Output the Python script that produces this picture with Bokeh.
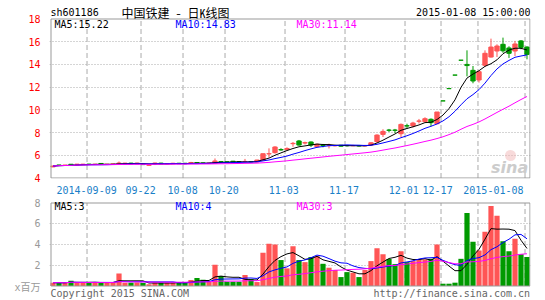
from bokeh.plotting import figure
from bokeh.models import Range1d, FixedTicker, Label, ColumnDataSource
from bokeh.layouts import column
from bokeh.embed import file_html
from bokeh.resources import INLINE

# ---------------- data ----------------
opens = [4.98, 5.14, 5.12, 5.21, 5.17, 5.18, 5.22, 5.20, 5.28, 5.20,
         5.21, 5.22, 5.24, 5.31, 5.24, 5.20, 5.12, 5.24, 5.31, 5.26,
         5.26, 5.30, 5.30, 5.32, 5.36, 5.33, 5.30, 5.29, 5.45, 5.42,
         5.48, 5.44, 5.44, 5.45, 5.41, 5.56, 6.12, 6.23, 6.50, 6.50,
         7.02, 7.26, 7.08, 7.17, 6.76, 6.90, 6.85, 6.84, 6.88, 6.86,
         6.84, 6.86, 6.83, 6.90, 7.20, 7.84, 8.22, 8.22, 7.90, 8.60,
         8.58, 9.00, 8.96, 9.17, 8.78, 10.79, 11.87, 13.06, 14.37, 14.00,
         13.48, 12.63, 13.92, 14.65, 15.18, 15.77, 15.45, 15.18, 16.07, 15.53]
closes = [5.05, 5.12, 5.13, 5.15, 5.22, 5.22, 5.20, 5.21, 5.20, 5.21,
          5.24, 5.32, 5.31, 5.25, 5.31, 5.18, 5.15, 5.32, 5.25, 5.27,
          5.30, 5.26, 5.26, 5.36, 5.32, 5.30, 5.31, 5.50, 5.43, 5.40,
          5.38, 5.42, 5.46, 5.42, 5.58, 6.14, 6.14, 6.73, 6.47, 6.60,
          7.05, 6.90, 7.11, 6.90, 6.97, 6.86, 6.88, 6.85, 6.80, 6.84,
          6.86, 6.82, 6.85, 7.10, 7.78, 8.10, 8.20, 8.20, 8.72, 8.58,
          8.84, 9.02, 9.22, 8.87, 9.81, 10.79, 11.87, 13.06, 14.37, 13.90,
          12.54, 13.36, 14.98, 15.53, 15.62, 15.20, 14.98, 15.80, 15.50, 14.88]
highs = [5.08, 5.15, 5.15, 5.23, 5.23, 5.24, 5.24, 5.23, 5.30, 5.23,
         5.26, 5.45, 5.33, 5.33, 5.33, 5.22, 5.17, 5.34, 5.33, 5.29,
         5.33, 5.32, 5.32, 5.42, 5.41, 5.35, 5.33, 5.72, 5.50, 5.45,
         5.50, 5.47, 5.68, 5.48, 5.60, 6.14, 6.61, 6.80, 6.62, 6.70,
         7.17, 7.35, 7.20, 7.22, 7.02, 7.00, 7.02, 6.92, 6.90, 6.90,
         6.92, 6.90, 6.92, 7.15, 7.85, 8.29, 8.32, 8.32, 8.80, 8.78,
         8.95, 9.20, 9.35, 9.25, 9.81, 10.79, 11.87, 13.06, 14.37, 15.24,
         13.86, 13.45, 15.24, 16.27, 15.77, 16.36, 15.60, 16.07, 16.15, 15.60]
lows = [4.95, 5.08, 5.10, 5.13, 5.15, 5.16, 5.18, 5.18, 5.18, 5.18,
        5.19, 5.20, 5.22, 5.23, 5.22, 5.14, 5.10, 5.14, 5.23, 5.24,
        5.24, 5.24, 5.24, 5.30, 5.30, 5.28, 5.28, 5.28, 5.38, 5.37,
        5.35, 5.38, 5.40, 5.38, 5.38, 5.52, 5.79, 6.15, 6.40, 6.45,
        6.75, 6.85, 6.95, 6.73, 6.70, 6.70, 6.60, 6.78, 6.76, 6.78,
        6.80, 6.78, 6.80, 6.85, 7.10, 7.61, 8.05, 7.95, 7.60, 8.35,
        8.45, 8.80, 8.90, 8.55, 8.75, 10.79, 11.87, 13.06, 14.37, 12.95,
        12.34, 12.40, 13.77, 14.60, 14.65, 15.03, 14.57, 14.74, 15.33, 14.45]
# volume, in millions of shares (x百万)
volumes = [0.32, 0.32, 0.30, 0.50, 0.32, 0.32, 0.32, 0.36, 0.34, 0.32,
           0.32, 1.20, 0.32, 0.32, 0.34, 0.30, 0.16, 0.34, 0.32, 0.32,
           0.32, 0.34, 0.32, 0.58, 0.78, 0.60, 0.38, 2.05, 0.96, 0.40,
           0.40, 0.40, 1.06, 0.67, 0.38, 3.20, 4.07, 4.00, 2.50, 1.70,
           3.84, 2.50, 2.30, 2.79, 2.88, 2.14, 1.76, 1.54, 0.86, 1.34,
           1.28, 0.86, 1.54, 2.40, 3.65, 3.07, 2.60, 2.11, 3.36, 2.30,
           2.40, 2.56, 2.56, 2.62, 4.00, 0.22, 0.22, 0.32, 2.62, 7.04,
           4.26, 3.43, 5.22, 7.72, 6.76, 4.32, 3.36, 4.55, 3.07, 2.79]

date_labels = ["2014-09-09", "09-22", "10-08", "10-20", "11-03",
               "11-17", "12-01", "12-17", "2015-01-08"]
date_label_pos = [5.6, 14.6, 21.6, 28.45, 38.45, 48.5, 58.45, 64.1, 73.4]
date_grid_pos = [5.67, 14.67, 21.67, 28.67, 38.67, 48.67, 58.67, 64.67, 70.83, 78.67]
price_ticks = [4, 6, 8, 10, 12, 14, 16, 18]
volume_ticks = [2, 4, 6, 8]

stock_code = "sh601186"
chart_title = "中国铁建 - 日K线图"
timestamp = "2015-01-08 15:00:00"
price_ma_labels = ["MA5:15.22", "MA10:14.83", "MA30:11.14"]
volume_ma_labels = ["MA5:3", "MA10:4", "MA30:3"]
volume_unit = "x百万"
copyright_text = "Copyright 2015 SINA.COM"
site_url = "http://finance.sina.com.cn"

# ---------------- derived ----------------
def moving_avg(vals, w):
    out = []
    for i in range(len(vals)):
        seg = vals[max(0, i - w + 1):i + 1]
        out.append(sum(seg) / len(seg))
    return out

UP = "#ff5555"
DOWN = "#009a00"
MA_COLORS = ["#000000", "#0000ff", "#ff00ff"]
MONO = "DejaVu Sans Mono"
CJK = "Noto Sans Mono CJK SC, Noto Sans CJK SC"
GRID = "#aaaaaa"
BORDER = "#999999"

n = len(closes)
xs = list(range(n))
colors = [UP if c > o else DOWN for o, c in zip(opens, closes)]
src = ColumnDataSource(dict(
    x=xs, o=opens, c=closes, h=highs, l=lows,
    top=[max(o, c) for o, c in zip(opens, closes)],
    bot=[min(o, c) for o, c in zip(opens, closes)],
    color=colors, vol=volumes,
    ma5=moving_avg(closes, 5), ma10=moving_avg(closes, 10), ma30=moving_avg(closes, 30),
    vma5=moving_avg(volumes, 5), vma10=moving_avg(volumes, 10), vma30=moving_avg(volumes, 30),
))

# horizontal scale: frame spans page x 49..530, one trading day = 6 px
PX = 6.0
X0 = -0.5833
X1 = X0 + 481 / PX
BOX_L = -0.3333
BOX_R = 79.5

# price panel: frame spans page y 0..178, value 4 at 177.5, value 18 at 18.5
P_PER = 159 / 14.0
P_BOT = 4 - 0.5 / P_PER
P_TOP = 18 + 18.5 / P_PER
def price_at(ypx):
    return 4 + (177.5 - ypx) / P_PER

# volume panel: frame spans page y 201..300, 0 at 285.5, 8 at 202.5
V_PER = 83 / 8.0
V_TOP = 8 + 1.5 / V_PER
V_BOT = -(300 - 285.5) / V_PER
def vol_at(ypx):
    return (285.5 - ypx) / V_PER


def style_axis(ax, color, standoff):
    ax.axis_line_color = None
    ax.major_tick_line_color = None
    ax.minor_tick_line_color = None
    ax.major_label_text_font = MONO + ", Noto Sans CJK SC"
    ax.major_label_text_font_size = "10px"
    ax.major_label_text_color = color
    ax.major_label_standoff = standoff


# ---------------- price panel ----------------
p1 = figure(width=545, height=196, x_range=Range1d(X0, X1), y_range=Range1d(P_BOT, P_TOP),
            output_backend="svg", toolbar_location=None, tools="",
            min_border_left=49, min_border_right=15, min_border_top=0, min_border_bottom=18)
p1.outline_line_color = None
p1.background_fill_color = "white"
p1.border_fill_color = "white"

p1.xgrid.visible = False
p1.ygrid.ticker = FixedTicker(ticks=price_ticks[1:-1])
p1.ygrid.grid_line_color = GRID
p1.ygrid.grid_line_dash = "1 2"
p1.segment(x0=date_grid_pos, y0=4, x1=date_grid_pos, y1=18,
           line_color=GRID, line_width=1, line_dash="5 3")

p1.xaxis.ticker = FixedTicker(ticks=date_label_pos)
p1.xaxis.major_label_overrides = {t: s for t, s in zip(date_label_pos, date_labels)}
style_axis(p1.xaxis, "#1a80c8", 1)
p1.yaxis.ticker = FixedTicker(ticks=price_ticks)
style_axis(p1.yaxis, "#ff0000", 3)

# watermark
p1.scatter(x=[76.25], y=[price_at(155)], size=11, fill_color="#f2b5b5", fill_alpha=0.5, line_color=None)
p1.add_layout(Label(x=79.2, y=price_at(167), text="sina", text_align="right", text_baseline="middle",
                    text_font="DejaVu Sans", text_font_style="bold italic",
                    text_font_size="16px", text_color="#cccccc"))

p1.segment(x0="x", y0="h", x1="x", y1="l", line_color="color", line_width=1, source=src)
p1.vbar(x="x", top="top", bottom="bot", width=0.72, fill_color="color",
        line_color="color", line_width=1, source=src)
for key, col in zip(["ma5", "ma10", "ma30"], MA_COLORS):
    p1.line(x="x", y=key, line_color=col, line_width=1, source=src)

# panel border
p1.quad(left=[BOX_L], right=[BOX_R], bottom=[4], top=[18], fill_color=None,
        line_color=BORDER, line_width=1)

HEAD_Y = price_at(11.5)
p1.add_layout(Label(x=BOX_L - 0.08, y=HEAD_Y, text=stock_code, text_align="left", text_baseline="middle",
                    text_font=MONO, text_font_size="10px", text_color="black"))
p1.add_layout(Label(x=11.42, y=HEAD_Y, text=chart_title, text_align="left", text_baseline="middle",
                    text_font=CJK, text_font_size="12px", text_color="black"))
p1.add_layout(Label(x=79.58, y=HEAD_Y, text=timestamp, text_align="right", text_baseline="middle",
                    text_font=MONO, text_font_size="10px", text_color="black"))
for lx, txt, col in zip([0.25, 20.42, 40.58], price_ma_labels, MA_COLORS):
    p1.add_layout(Label(x=lx, y=price_at(24), text=txt, text_align="left", text_baseline="middle",
                        text_font=MONO, text_font_size="10px", text_color=col))

# ---------------- volume panel ----------------
p2 = figure(width=545, height=104, x_range=p1.x_range, y_range=Range1d(V_BOT, V_TOP),
            output_backend="svg", toolbar_location=None, tools="", x_axis_location=None,
            min_border_left=49, min_border_right=15, min_border_top=5, min_border_bottom=0)
p2.outline_line_color = None
p2.background_fill_color = "white"
p2.border_fill_color = "white"

p2.xgrid.visible = False
p2.ygrid.ticker = FixedTicker(ticks=volume_ticks[:-1])
p2.ygrid.grid_line_color = GRID
p2.ygrid.grid_line_dash = "1 2"
p2.segment(x0=date_grid_pos, y0=0, x1=date_grid_pos, y1=8,
           line_color=GRID, line_width=1, line_dash="5 3")

unit_tick = -0.1
p2.yaxis.ticker = FixedTicker(ticks=[unit_tick] + volume_ticks)
p2.yaxis.major_label_overrides = {unit_tick: volume_unit}
style_axis(p2.yaxis, "#999999", 3)

p2.vbar(x="x", top="vol", bottom=0, width=0.87, fill_color="color", line_color=None, source=src)
for key, col in zip(["vma5", "vma10", "vma30"], MA_COLORS):
    p2.line(x="x", y=key, line_color=col, line_width=1, source=src)

p2.quad(left=[BOX_L], right=[BOX_R], bottom=[0], top=[8], fill_color=None,
        line_color=BORDER, line_width=1)

for lx, txt, col in zip([0.25, 20.42, 40.58], volume_ma_labels, MA_COLORS):
    p2.add_layout(Label(x=lx, y=vol_at(206), text=txt, text_align="left", text_baseline="middle",
                        text_font=MONO, text_font_size="10px", text_color=col))
FOOT_Y = vol_at(293)
p2.add_layout(Label(x=BOX_L - 0.08, y=FOOT_Y, text=copyright_text, text_align="left", text_baseline="middle",
                    text_font=MONO, text_font_size="10px", text_color="#666666"))
p2.add_layout(Label(x=BOX_R, y=FOOT_Y, text=site_url, text_align="right", text_baseline="middle",
                    text_font=MONO, text_font_size="10px", text_color="#666666"))

layout = column(p1, p2)
open("out.html", "w").write(file_html(layout, INLINE))
